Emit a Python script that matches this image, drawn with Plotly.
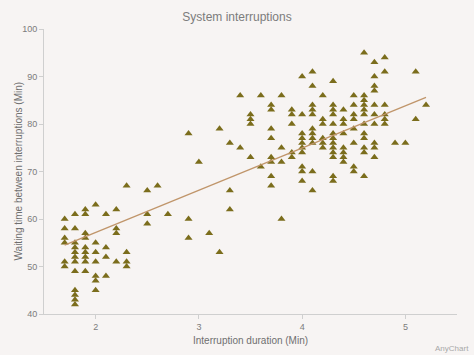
import plotly.graph_objects as go

# Interruption duration (Min) and waiting time (Min), read column by column
duration = (
    [1.7] * 6 + [1.8] * 12 + [1.9] * 9 + [2.0] * 7 + [2.1] * 4 + [2.2] * 4 + [2.3] * 4
    + [2.5] * 3 + [2.6] + [2.7] + [2.9] * 3 + [3.0] + [3.1] + [3.2] * 2 + [3.3] * 3
    + [3.4] * 2 + [3.5] * 4 + [3.6] * 2 + [3.7] * 8 + [3.8] * 4 + [3.9] * 5
    + [4.0] * 10 + [4.1] * 11 + [4.2] * 6 + [4.3] * 13 + [4.4] * 8 + [4.5] * 8
    + [4.6] * 12 + [4.7] * 10 + [4.8] * 6 + [4.9] + [5.0] + [5.1] * 2 + [5.2]
)
waiting = [
    60, 58, 56, 55, 51, 50,
    61, 58, 55, 54, 53, 52, 51, 49, 45, 44, 43, 42,
    62, 61, 57, 56, 54, 53, 52, 51, 49,
    63, 55, 53, 51, 48, 47, 45,
    61, 54, 52, 48,
    62, 58, 57, 51,
    67, 53, 51, 50,
    66, 61, 59,
    67,
    61,
    78, 60, 56,
    72,
    57,
    79, 53,
    76, 66, 62,
    86, 75,
    82, 81, 80, 73,
    86, 71,
    84, 83, 79, 77, 73, 72, 69, 67,
    86, 75, 72, 60,
    83, 82, 80, 74, 73,
    90, 82, 78, 77, 76, 75, 74, 71, 70, 68,
    91, 88, 84, 83, 82, 79, 78, 77, 76, 70, 66,
    86, 81, 80, 77, 76, 75,
    89, 84, 83, 82, 80, 78, 77, 76, 75, 74, 73, 69, 68,
    83, 81, 80, 78, 75, 74, 73, 72,
    86, 84, 82, 81, 79, 76, 71, 70,
    95, 86, 85, 84, 83, 82, 80, 78, 77, 75, 74, 69,
    93, 90, 88, 87, 84, 82, 80, 76, 75, 73,
    94, 91, 84, 82, 81, 80,
    76,
    76,
    91, 81,
    84,
]

# Trend line end points
trend_x = [1.7, 5.2]
trend_y = [54.5, 85.6]

x_ticks = [2, 3, 4, 5]
y_ticks = [40, 50, 60, 70, 80, 90, 100]

BG = "#f7f4f3"
TXT = "#7c7c7c"
AX = "#cfcfcf"
FONT = "Liberation Sans, Arial, sans-serif"

fig = go.Figure()
fig.add_trace(go.Scatter(
    x=duration, y=waiting, mode="markers",
    marker=dict(symbol="triangle-up", size=7, color="#7b6d1c", line=dict(width=0)),
    showlegend=False, hoverinfo="x+y",
))
fig.add_trace(go.Scatter(
    x=trend_x, y=trend_y, mode="lines",
    line=dict(color="#c0956a", width=1.3),
    showlegend=False, hoverinfo="skip",
))

fig.update_layout(
    width=474, height=355,
    paper_bgcolor=BG, plot_bgcolor=BG,
    margin=dict(l=44, r=17, t=29, b=41),
    font=dict(family=FONT, color=TXT, size=9),
    title=dict(text="System interruptions", x=0.5, xref="container", xanchor="center",
               y=1 - 17 / 355, yref="container", yanchor="middle",
               font=dict(size=12, color=TXT, family=FONT)),
    xaxis=dict(range=[1.5, 5.5], tickvals=x_ticks, showgrid=False, zeroline=False,
               showline=True, linecolor=AX, linewidth=1, ticks="outside", ticklen=4,
               tickcolor=AX, tickfont=dict(size=9, color=TXT)),
    yaxis=dict(range=[40, 100], tickvals=y_ticks, showgrid=False, zeroline=False,
               showline=True, linecolor=AX, linewidth=1, ticks="outside", ticklen=4,
               tickcolor=AX, tickfont=dict(size=9, color=TXT)),
    annotations=[
        dict(text="Interruption duration (Min)", xref="paper", yref="paper",
             x=0.5, y=-19 / 285, xanchor="center", yanchor="top", showarrow=False,
             font=dict(size=10, color="#6f6f6f")),
        dict(text="Waiting time between interruptions (Min)", xref="paper", yref="paper",
             x=-26 / 413, y=0.5, xanchor="center", yanchor="middle", textangle=-90,
             showarrow=False, font=dict(size=10, color="#6f6f6f")),
        dict(text="AnyChart", xref="paper", yref="paper",
             x=1 + 14 / 413, y=-28 / 285, xanchor="right", yanchor="top", showarrow=False,
             font=dict(size=8, color="#a8a8a8")),
    ],
)

fig.write_html("out.html", config={"displayModeBar": False},
               post_script="document.body.style.margin='0';")
